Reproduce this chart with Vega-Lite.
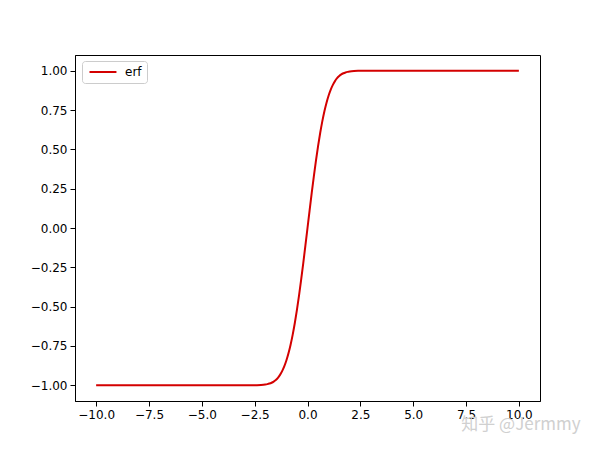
{
  "$schema": "https://vega.github.io/schema/vega-lite/v6.json",
  "autosize": "none",
  "padding": {"left": 75, "top": 55, "right": 60, "bottom": 49},
  "width": 465,
  "height": 346,
  "background": "white",
  "config": {
    "view": {"stroke": "black", "strokeWidth": 1},
    "font": "DejaVu Sans"
  },
  "layer": [
    {
      "data": {"values": [
        {"x": -10, "y": -1}, {"x": -6, "y": -1}, {"x": -4, "y": -1}, {"x": -3.5, "y": -0.999999},
        {"x": -3.0, "y": -0.99998}, {"x": -2.8, "y": -0.99992}, {"x": -2.6, "y": -0.99976},
        {"x": -2.4, "y": -0.9993}, {"x": -2.2, "y": -0.9981}, {"x": -2.0, "y": -0.9953},
        {"x": -1.9, "y": -0.9928}, {"x": -1.8, "y": -0.9891}, {"x": -1.7, "y": -0.9838},
        {"x": -1.6, "y": -0.9763}, {"x": -1.5, "y": -0.9661}, {"x": -1.4, "y": -0.9523},
        {"x": -1.3, "y": -0.934}, {"x": -1.2, "y": -0.9103}, {"x": -1.1, "y": -0.8802},
        {"x": -1.0, "y": -0.8427}, {"x": -0.9, "y": -0.7969}, {"x": -0.8, "y": -0.7421},
        {"x": -0.7, "y": -0.6778}, {"x": -0.6, "y": -0.6039}, {"x": -0.5, "y": -0.5205},
        {"x": -0.4, "y": -0.4284}, {"x": -0.3, "y": -0.3286}, {"x": -0.2, "y": -0.2227},
        {"x": -0.1, "y": -0.1125}, {"x": 0, "y": 0},
        {"x": 0.1, "y": 0.1125}, {"x": 0.2, "y": 0.2227}, {"x": 0.3, "y": 0.3286},
        {"x": 0.4, "y": 0.4284}, {"x": 0.5, "y": 0.5205}, {"x": 0.6, "y": 0.6039},
        {"x": 0.7, "y": 0.6778}, {"x": 0.8, "y": 0.7421}, {"x": 0.9, "y": 0.7969},
        {"x": 1.0, "y": 0.8427}, {"x": 1.1, "y": 0.8802}, {"x": 1.2, "y": 0.9103},
        {"x": 1.3, "y": 0.934}, {"x": 1.4, "y": 0.9523}, {"x": 1.5, "y": 0.9661},
        {"x": 1.6, "y": 0.9763}, {"x": 1.7, "y": 0.9838}, {"x": 1.8, "y": 0.9891},
        {"x": 1.9, "y": 0.9928}, {"x": 2.0, "y": 0.9953}, {"x": 2.2, "y": 0.9981},
        {"x": 2.4, "y": 0.9993}, {"x": 2.6, "y": 0.99976}, {"x": 2.8, "y": 0.99992},
        {"x": 3.0, "y": 0.99998}, {"x": 3.5, "y": 0.999999}, {"x": 4, "y": 1},
        {"x": 6, "y": 1}, {"x": 10, "y": 1}
      ]},
      "mark": {"type": "line", "strokeWidth": 2, "interpolate": "monotone"},
      "encoding": {
        "x": {
          "field": "x", "type": "quantitative",
          "scale": {"domain": [-11, 11], "nice": false, "zero": false},
          "axis": {
            "title": null, "grid": false, "values": [-10, -7.5, -5, -2.5, 0, 2.5, 5, 7.5, 10],
            "format": ".1f", "domainColor": "black", "tickColor": "black", "tickSize": 5,
            "labelColor": "black", "labelFontSize": 12, "labelPadding": 3, "labelFont": "DejaVu Sans"
          }
        },
        "y": {
          "field": "y", "type": "quantitative",
          "scale": {"domain": [-1.1, 1.1], "nice": false, "zero": false},
          "axis": {
            "title": null, "grid": false, "values": [-1, -0.75, -0.5, -0.25, 0, 0.25, 0.5, 0.75, 1],
            "format": ".2f", "domainColor": "black", "tickColor": "black", "tickSize": 5,
            "labelColor": "black", "labelFontSize": 12, "labelPadding": 3, "labelFont": "DejaVu Sans"
          }
        },
        "color": {
          "datum": "erf",
          "scale": {"range": ["#d40000"]},
          "legend": {
            "title": null, "orient": "none", "legendX": 7, "legendY": 6,
            "symbolType": "M-1,0H6.7", "symbolSize": 49, "symbolStrokeWidth": 2,
            "fillColor": "white", "strokeColor": "#cccccc", "cornerRadius": 3,
            "padding": 5, "labelFontSize": 12, "labelColor": "black", "labelFont": "DejaVu Sans",
            "labelOffset": 26
          }
        }
      }
    },
    {
      "data": {"values": [{"label": "知乎 @Jermmy", "x": 10.1, "y": -1.255}]},
      "mark": {"type": "text", "clip": false, "fontSize": 17, "font": "Noto Sans CJK SC", "color": "#d0d0d0", "align": "center", "baseline": "middle"},
      "encoding": {
        "x": {"field": "x", "type": "quantitative"},
        "y": {"field": "y", "type": "quantitative"},
        "text": {"field": "label"}
      }
    }
  ]
}
